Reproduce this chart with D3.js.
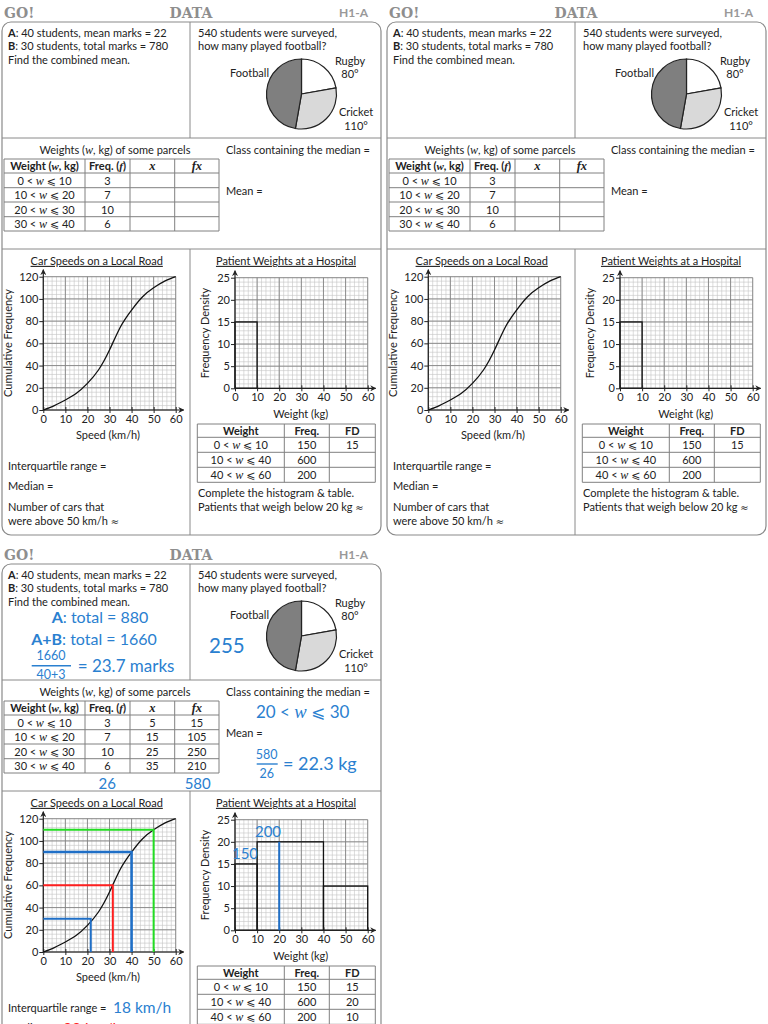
<!DOCTYPE html>
<html>
<head>
<meta charset="utf-8">
<script src="https://cdn.jsdelivr.net/npm/d3@7"></script>
<style>
  body { margin: 0; background: #fff; }
  svg text { font-family: Lato, "DejaVu Sans", sans-serif; fill: #222; }
  .hdr { font-family: "DejaVu Serif", serif !important; font-weight: bold; fill: #8e8e8e !important; }
  .mv { font-family: "Liberation Serif", "DejaVu Serif", serif !important; font-style: italic; }
  .sym { font-family: "DejaVu Sans", sans-serif !important; }
  .ans { fill: #2a80d0 !important; }
</style>
</head>
<body>
<svg id="sheet" width="768" height="1024"></svg>
<script>
/*
 */

// Pie chart: sports played by 540 students (angles in degrees)
const sportLabels = ['Rugby', 'Cricket', 'Football'];
const sportAngles = [80, 110, 170];

// Parcel weights table
const parcelLo = [0, 10, 20, 30];
const parcelHi = [10, 20, 30, 40];
const parcelFreq = [3, 7, 10, 6];
const parcelMid = [5, 15, 25, 35];
const parcelFx = [15, 105, 250, 210];
const parcelTotals = [26, 580];

// Cumulative frequency curve for car speeds
const speeds = [0, 5, 10, 15, 20, 25, 30, 35, 40, 45, 50, 55, 60];
const cumFreq = [0, 4, 9, 15, 24, 36, 54, 75, 90, 102, 110, 116, 120];
const speedTicks = [0, 10, 20, 30, 40, 50, 60];
const cfTicks = [0, 20, 40, 60, 80, 100, 120];

// Readings drawn on the answered curve (cf level -> speed)
const readCF = [110, 90, 60, 30];
const readSpeed = [50, 40, 31.5, 21.5];

// Patient weights histogram / table
const weightLo = [0, 10, 40];
const weightHi = [10, 40, 60];
const weightFreq = [150, 600, 200];
const weightFD = [15, 20, 10];
const weightTicks = [0, 10, 20, 30, 40, 50, 60];
const fdTicks = [0, 5, 10, 15, 20, 25];

/*------------------------------------------------------*/

const svg = d3.select('#sheet');
const blue = '#2a80d0';
const lineBlue = '#1f6fc7';
const fs = 11;
const pieFill = d3.scaleOrdinal().domain(sportLabels).range(['#ffffff', '#d9d9d9', '#7f7f7f']);
const readColor = d3.scaleOrdinal().domain(readCF).range(['#22dd22', lineBlue, '#ff1f1f', lineBlue]);

// Arrow head for the axes
svg.append('defs').append('marker')
  .attr('id', 'arr')
  .attr('viewBox', '0 0 10 10')
  .attr('refX', 9).attr('refY', 5)
  .attr('markerUnits', 'userSpaceOnUse')
  .attr('markerWidth', 6).attr('markerHeight', 6)
  .attr('orient', 'auto')
  .append('path')
  .attr('d', 'M0,0 L10,5 L0,10 L3,5 z')
  .attr('fill', '#222');

// Plain text helper, y is the vertical centre of the text
function txt(g, x, y, str, size, anchor) {
  return g.append('text')
    .attr('x', x).attr('y', y).attr('dy', '0.35em')
    .attr('font-size', size || fs)
    .attr('text-anchor', anchor || 'start')
    .text(str);
}

// Text ending with an "approximately equal" sign
function approxText(g, x, y, str) {
  const t = txt(g, x, y, str + ' ');
  t.append('tspan').attr('class', 'sym').attr('font-size', 10).text('≈');
  return t;
}

// "lo < w ⩽ hi" with an italic w
function classText(lo, hi) {
  return (t) => {
    t.append('tspan').text(lo + ' < ');
    t.append('tspan').attr('class', 'mv').attr('font-size', '1.1em').text('w');
    t.append('tspan').text(' ⩽ ' + hi);
  };
}

// Grid table: column edges, row edges, cell contents
function drawTable(g, cols, rows, cells) {
  const t = g.append('g');
  t.selectAll('.vl').data(cols).join('line')
    .attr('x1', (d) => d).attr('x2', (d) => d)
    .attr('y1', rows[0]).attr('y2', rows[rows.length - 1])
    .attr('stroke', '#808080').attr('stroke-width', 1);
  t.selectAll('.hl').data(rows).join('line')
    .attr('y1', (d) => d).attr('y2', (d) => d)
    .attr('x1', cols[0]).attr('x2', cols[cols.length - 1])
    .attr('stroke', '#808080').attr('stroke-width', 1);
  cells.forEach((row, i) => row.forEach((c, j) => {
    const el = t.append('text')
      .attr('x', (cols[j] + cols[j + 1]) / 2)
      .attr('y', (rows[i] + rows[i + 1]) / 2 + 0.5)
      .attr('dy', '0.35em')
      .attr('font-size', fs)
      .attr('text-anchor', 'middle');
    if (i === 0) el.attr('font-weight', 'bold');
    if (typeof c === 'function') c(el); else el.text(c);
  }));
}

// Graph paper: minor and major lines
function drawGrid(g, x, y, xMinor, yMinor, xMajor, yMajor) {
  const [x0, x1] = x.range();
  const [y0, y1] = y.range();
  const grid = g.append('g');
  grid.selectAll('.gx').data(xMinor).join('line')
    .attr('x1', (d) => x(d)).attr('x2', (d) => x(d)).attr('y1', y0).attr('y2', y1)
    .attr('stroke', '#c4c4c4').attr('stroke-width', 0.6);
  grid.selectAll('.gy').data(yMinor).join('line')
    .attr('y1', (d) => y(d)).attr('y2', (d) => y(d)).attr('x1', x0).attr('x2', x1)
    .attr('stroke', '#c4c4c4').attr('stroke-width', 0.6);
  grid.selectAll('.mx').data(xMajor).join('line')
    .attr('x1', (d) => x(d)).attr('x2', (d) => x(d)).attr('y1', y0).attr('y2', y1)
    .attr('stroke', '#858585').attr('stroke-width', 0.9);
  grid.selectAll('.my').data(yMajor).join('line')
    .attr('y1', (d) => y(d)).attr('y2', (d) => y(d)).attr('x1', x0).attr('x2', x1)
    .attr('stroke', '#858585').attr('stroke-width', 0.9);
}

// Axes with arrow heads
function drawAxes(g, x, y, xTicks, yTicks) {
  const ay = g.append('g')
    .attr('transform', 'translate(' + x.range()[0] + ',0)')
    .call(d3.axisLeft(y).tickValues(yTicks).tickSize(4).tickPadding(1))
    .attr('font-size', 11).attr('color', '#222');
  ay.select('.domain').remove();
  const ax = g.append('g')
    .attr('transform', 'translate(0,' + y.range()[0] + ')')
    .call(d3.axisBottom(x).tickValues(xTicks).tickSizeInner(3).tickSizeOuter(0).tickPadding(2))
    .attr('font-size', 11).attr('color', '#222');
  ax.select('.domain').remove();
  ax.selectAll('.tick line').attr('y1', -3);
  g.append('line')
    .attr('x1', x.range()[0]).attr('x2', x.range()[0])
    .attr('y1', y.range()[0]).attr('y2', y.range()[1] - 7)
    .attr('stroke', '#222').attr('stroke-width', 1.2).attr('marker-end', 'url(#arr)');
  g.append('line')
    .attr('x1', x.range()[0]).attr('x2', x.range()[1] + 8)
    .attr('y1', y.range()[0]).attr('y2', y.range()[0])
    .attr('stroke', '#222').attr('stroke-width', 1.2).attr('marker-end', 'url(#arr)');
}

/*------------------------------------------------------*/

function drawCard(ox, oy, answered) {
  const g = svg.append('g').attr('transform', 'translate(' + ox + ',' + oy + ')');

  // Header
  g.append('text').attr('class', 'hdr').attr('x', 4).attr('y', 18).attr('font-size', 14).text('GO!');
  g.append('text').attr('class', 'hdr').attr('x', 191).attr('y', 18).attr('font-size', 14)
    .attr('text-anchor', 'middle').text('DATA');
  g.append('text').attr('x', 368).attr('y', 17).attr('font-size', 12).attr('font-weight', 'bold')
    .attr('text-anchor', 'end').style('fill', '#999').text('H1-A');

  // Card outline and dividers
  g.append('rect').attr('x', 2).attr('y', 22).attr('width', 379).attr('height', 513).attr('rx', 9)
    .attr('fill', 'none').attr('stroke', '#8a8a8a').attr('stroke-width', 1.2);
  const div = [[190, 22, 190, 138], [2, 138, 381, 138], [2, 249, 381, 249], [190, 249, 190, 535]];
  g.selectAll('.div').data(div).join('line')
    .attr('x1', (d) => d[0]).attr('y1', (d) => d[1]).attr('x2', (d) => d[2]).attr('y2', (d) => d[3])
    .attr('stroke', '#8a8a8a').attr('stroke-width', 1);

  /* Combined mean question */
  let t = txt(g, 8, 32.7, '');
  t.append('tspan').attr('font-weight', 'bold').text('A');
  t.append('tspan').text(': 40 students, mean marks = 22');
  t = txt(g, 8, 46, '');
  t.append('tspan').attr('font-weight', 'bold').text('B');
  t.append('tspan').text(': 30 students, total marks = 780');
  txt(g, 8, 60, 'Find the combined mean.');

  /* Pie chart question */
  txt(g, 198, 32.7, '540 students were surveyed,');
  txt(g, 198, 46, 'how many played football?');
  const pie = d3.pie().sort(null).value((d) => d)(sportAngles);
  const arc = d3.arc().innerRadius(0).outerRadius(35);
  const gp = g.append('g').attr('transform', 'translate(301.5,94)');
  gp.selectAll('path').data(pie).join('path')
    .attr('d', arc)
    .attr('fill', (d, i) => pieFill(sportLabels[i]))
    .attr('stroke', '#222').attr('stroke-width', 1.2);
  txt(g, 350, 60.7, sportLabels[0], fs, 'middle');
  txt(g, 350, 74, sportAngles[0] + '°', fs, 'middle');
  txt(g, 356, 112, sportLabels[1], fs, 'middle');
  txt(g, 356, 125.7, sportAngles[1] + '°', fs, 'middle');
  txt(g, 269, 72.7, sportLabels[2], fs, 'end');

  /* Parcel table */
  t = txt(g, 115, 150, '', fs, 'middle');
  t.append('tspan').text('Weights (');
  t.append('tspan').attr('class', 'mv').attr('font-size', '1.1em').text('w');
  t.append('tspan').text(', kg) of some parcels');
  const headW = (el) => {
    el.append('tspan').text('Weight (');
    el.append('tspan').attr('class', 'mv').text('w');
    el.append('tspan').text(', kg)');
  };
  const headF = (el) => {
    el.append('tspan').text('Freq. (');
    el.append('tspan').attr('class', 'mv').text('f');
    el.append('tspan').text(')');
  };
  const headX = (el) => el.append('tspan').attr('class', 'mv').attr('font-size', 12.5).text('x');
  const headFx = (el) => el.append('tspan').attr('class', 'mv').attr('font-size', 12.5).text('fx');
  const parcelRows = parcelLo.map((lo, i) => [
    classText(lo, parcelHi[i]), parcelFreq[i],
    answered ? parcelMid[i] : '', answered ? parcelFx[i] : ''
  ]);
  drawTable(g, [4, 85, 130, 174.7, 219], [159, 173, 187.7, 202, 216.7, 231],
    [[headW, headF, headX, headFx]].concat(parcelRows));
  txt(g, 226, 150, 'Class containing the median =');
  txt(g, 226, 191, 'Mean =');

  /* Cumulative frequency graph */
  const xs = d3.scaleLinear().domain([0, 60]).range([43.3, 175.7]);
  const ys = d3.scaleLinear().domain([0, 120]).range([410, 276.7]);
  txt(g, 96.7, 261, 'Car Speeds on a Local Road', fs, 'middle').attr('text-decoration', 'underline');
  drawGrid(g, xs, ys, d3.range(0, 61, 2), d3.range(0, 121, 4), speedTicks, cfTicks);
  drawAxes(g, xs, ys, speedTicks, cfTicks);
  const cfLine = d3.line().x((d) => xs(d[0])).y((d) => ys(d[1])).curve(d3.curveNatural);
  g.append('path').datum(d3.zip(speeds, cumFreq))
    .attr('d', cfLine).attr('fill', 'none').attr('stroke', '#111').attr('stroke-width', 1.3);
  txt(g, 108, 435, 'Speed (km/h)', fs, 'middle');
  txt(g, 0, 0, 'Cumulative Frequency', fs, 'middle')
    .attr('transform', 'translate(8.5,343) rotate(-90)');

  if (answered) {
    g.selectAll('.read').data(readCF).join('path')
      .attr('d', (d, i) => 'M' + xs(0) + ',' + ys(d) + 'H' + xs(readSpeed[i]) + 'V' + ys(0))
      .attr('fill', 'none')
      .attr('stroke', (d) => readColor(d))
      .attr('stroke-width', (d) => d === 90 ? 2.6 : 2);
  }

  txt(g, 8, 466, 'Interquartile range =');
  txt(g, 8, 486, 'Median =');
  txt(g, 8, 507, 'Number of cars that');
  approxText(g, 8, 521, 'were above 50 km/h');

  /* Histogram */
  const xh = d3.scaleLinear().domain([0, 60]).range([235, 367.7]);
  const yh = d3.scaleLinear().domain([0, 25]).range([388.3, 277.7]);
  txt(g, 286, 261, 'Patient Weights at a Hospital', fs, 'middle').attr('text-decoration', 'underline');
  drawGrid(g, xh, yh, d3.range(0, 61, 2), d3.range(0, 26, 1), weightTicks, fdTicks);
  const nBars = answered ? weightLo.length : 1;
  g.selectAll('.bar').data(weightLo.slice(0, nBars)).join('rect')
    .attr('x', (d) => xh(d))
    .attr('y', (d, i) => yh(weightFD[i]))
    .attr('width', (d, i) => xh(weightHi[i]) - xh(d))
    .attr('height', (d, i) => yh(0) - yh(weightFD[i]))
    .attr('fill', 'none').attr('stroke', '#111').attr('stroke-width', 1.3);
  drawAxes(g, xh, yh, weightTicks, fdTicks);
  txt(g, 300.7, 414.3, 'Weight (kg)', fs, 'middle');
  txt(g, 0, 0, 'Frequency Density', fs, 'middle')
    .attr('transform', 'translate(205,333) rotate(-90)');

  const weightRows = weightLo.map((lo, i) => [
    classText(lo, weightHi[i]), weightFreq[i],
    (answered || i === 0) ? weightFD[i] : ''
  ]);
  drawTable(g, [197.3, 284.3, 329.3, 375.3], [424, 437.3, 452.3, 467.3, 482.3],
    [['Weight', 'Freq.', 'FD']].concat(weightRows));
  txt(g, 198, 493.3, 'Complete the histogram & table.');
  approxText(g, 198, 507, 'Patients that weigh below 20 kg');

  /* Worked answers */
  if (answered) {
    const a = g.append('g');
    t = txt(a, 100, 75.7, '', 16, 'middle').attr('class', 'ans');
    t.append('tspan').attr('font-weight', 'bold').text('A');
    t.append('tspan').text(': total = 880');
    t = txt(a, 94, 97, '', 16, 'middle').attr('class', 'ans');
    t.append('tspan').attr('font-weight', 'bold').text('A+B');
    t.append('tspan').text(': total = 1660');
    txt(a, 51, 113.7, '1660', 12.5, 'middle').attr('class', 'ans');
    a.append('line').attr('x1', 31.7).attr('x2', 71).attr('y1', 123.7).attr('y2', 123.7)
      .attr('stroke', blue).attr('stroke-width', 1.4);
    txt(a, 51, 132.3, '40+3', 12.5, 'middle').attr('class', 'ans');
    txt(a, 77.7, 123.7, '=  23.7 marks', 17).attr('class', 'ans');

    txt(a, 209, 104, '255', 20.5).attr('class', 'ans');

    t = txt(a, 302.7, 169.7, '', 17, 'middle').attr('class', 'ans');
    classText(20, 30)(t);
    t.selectAll('tspan').attr('class', (d, i) => i === 1 ? 'mv ans' : 'ans');

    txt(a, 266.7, 212.3, String(parcelTotals[1]), 12.5, 'middle').attr('class', 'ans');
    a.append('line').attr('x1', 256.7).attr('x2', 277.7).attr('y1', 222).attr('y2', 222)
      .attr('stroke', blue).attr('stroke-width', 1.4);
    txt(a, 266.7, 231.3, String(parcelTotals[0]), 12.5, 'middle').attr('class', 'ans');
    txt(a, 283, 222, '=  22.3 kg', 18).attr('class', 'ans');

    txt(a, 107.3, 241.3, String(parcelTotals[0]), 15, 'middle').attr('class', 'ans');
    txt(a, 197.7, 241.3, String(parcelTotals[1]), 15, 'middle').attr('class', 'ans');

    txt(a, 113, 465.7, '18 km/h', 15.5).attr('class', 'ans');
    txt(a, 63, 486.5, '32 km/h', 15.5).style('fill', '#ff2020');

    a.append('line').attr('x1', xh(20)).attr('x2', xh(20)).attr('y1', yh(0)).attr('y2', yh(20))
      .attr('stroke', lineBlue).attr('stroke-width', 2);
    txt(a, 268, 289.7, '200', 15, 'middle').attr('class', 'ans');
    txt(a, 245, 311.3, '150', 15, 'middle').attr('class', 'ans');
  }
}

drawCard(0, 0, false);
drawCard(385, 0, false);
drawCard(0, 542, true);
</script>
</body>
</html>
